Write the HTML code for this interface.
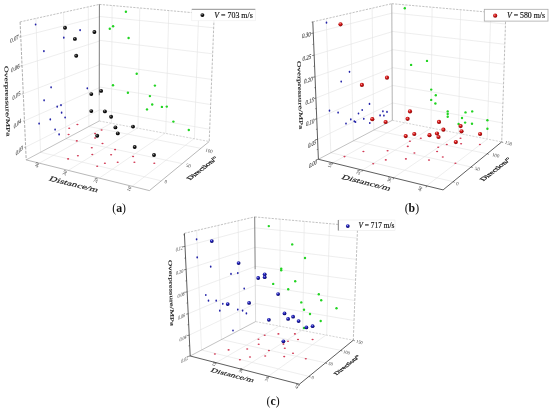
<!DOCTYPE html>
<html><head><meta charset="utf-8"><style>
html,body{margin:0;padding:0;background:#fff;}
svg{display:block;font-family:"Liberation Serif",serif;filter:blur(0.3px);}
</style></head><body>
<svg width="550" height="410" viewBox="0 0 550 410">
<defs>
<radialGradient id="gk" cx="0.4" cy="0.35" r="0.6"><stop offset="0" stop-color="#9a9a9a"/><stop offset="0.45" stop-color="#1a1a1a"/><stop offset="1" stop-color="#000"/></radialGradient>
<radialGradient id="gr" cx="0.4" cy="0.35" r="0.6"><stop offset="0" stop-color="#f4b0b0"/><stop offset="0.4" stop-color="#d81818"/><stop offset="1" stop-color="#900808"/></radialGradient>
<radialGradient id="gb" cx="0.4" cy="0.35" r="0.6"><stop offset="0" stop-color="#a0a0f0"/><stop offset="0.45" stop-color="#1e1eb4"/><stop offset="1" stop-color="#0a0a6a"/></radialGradient>
</defs>
<rect width="550" height="410" fill="#fff"/>
<line x1="25.63" y1="147.1" x2="99.22" y2="110.05" stroke="#e2e2e2" stroke-width="0.6"/>
<line x1="99.22" y1="109.74" x2="209.68" y2="129.29" stroke="#e2e2e2" stroke-width="0.6"/>
<line x1="24.47" y1="120.87" x2="99.26" y2="87.69" stroke="#e2e2e2" stroke-width="0.6"/>
<line x1="99.26" y1="86.96" x2="210.66" y2="104.55" stroke="#e2e2e2" stroke-width="0.6"/>
<line x1="23.28" y1="93.77" x2="99.3" y2="64.72" stroke="#e2e2e2" stroke-width="0.6"/>
<line x1="99.3" y1="63.83" x2="211.65" y2="79.4" stroke="#e2e2e2" stroke-width="0.6"/>
<line x1="22.04" y1="65.75" x2="99.34" y2="41.1" stroke="#e2e2e2" stroke-width="0.6"/>
<line x1="99.34" y1="40.34" x2="212.65" y2="53.81" stroke="#e2e2e2" stroke-width="0.6"/>
<line x1="20.76" y1="36.77" x2="99.38" y2="16.81" stroke="#e2e2e2" stroke-width="0.6"/>
<line x1="99.38" y1="16.47" x2="213.68" y2="27.78" stroke="#e2e2e2" stroke-width="0.6"/>
<line x1="40.56" y1="152.25" x2="35.88" y2="18.42" stroke="#e2e2e2" stroke-width="0.6"/>
<line x1="40.5" y1="152.28" x2="161.34" y2="180.8" stroke="#e2e2e2" stroke-width="0.6"/>
<line x1="65.95" y1="138.72" x2="63.56" y2="12.31" stroke="#e2e2e2" stroke-width="0.6"/>
<line x1="65.86" y1="138.76" x2="182.24" y2="163.64" stroke="#e2e2e2" stroke-width="0.6"/>
<line x1="88.85" y1="126.52" x2="88.29" y2="6.85" stroke="#e2e2e2" stroke-width="0.6"/>
<line x1="88.8" y1="126.54" x2="200.85" y2="148.35" stroke="#e2e2e2" stroke-width="0.6"/>
<line x1="111.41" y1="123.28" x2="112.1" y2="5.53" stroke="#e2e2e2" stroke-width="0.6"/>
<line x1="39.29" y1="163.16" x2="111.13" y2="123.22" stroke="#e2e2e2" stroke-width="0.6"/>
<line x1="137.99" y1="128.23" x2="139.79" y2="7.99" stroke="#e2e2e2" stroke-width="0.6"/>
<line x1="68.27" y1="170.38" x2="137.34" y2="128.11" stroke="#e2e2e2" stroke-width="0.6"/>
<line x1="165.77" y1="133.41" x2="168.77" y2="10.56" stroke="#e2e2e2" stroke-width="0.6"/>
<line x1="99.29" y1="178.11" x2="165.08" y2="133.28" stroke="#e2e2e2" stroke-width="0.6"/>
<line x1="194.36" y1="138.73" x2="198.66" y2="13.22" stroke="#e2e2e2" stroke-width="0.6"/>
<line x1="132.05" y1="186.28" x2="194.02" y2="138.67" stroke="#e2e2e2" stroke-width="0.6"/>
<line x1="20.1" y1="21.9" x2="99.4" y2="4.4" stroke="#a8a8a8" stroke-width="0.7" stroke-dasharray="2.2,1.2"/>
<line x1="99.4" y1="4.4" x2="214.2" y2="14.6" stroke="#a8a8a8" stroke-width="0.7" stroke-dasharray="2.2,1.2"/>
<line x1="214.2" y1="14.6" x2="209.2" y2="141.5" stroke="#a0a0a0" stroke-width="0.7" stroke-dasharray="2.6,1.4"/>
<line x1="99.2" y1="121" x2="209.2" y2="141.5" stroke="#b8b8b8" stroke-width="0.6" stroke-dasharray="2.2,1.2"/>
<line x1="99.4" y1="4.4" x2="99.24" y2="95.35" stroke="#505050" stroke-width="0.75"/>
<line x1="99.24" y1="95.35" x2="99.2" y2="121" stroke="#c4c4c4" stroke-width="0.6"/>
<line x1="26.2" y1="159.9" x2="99.2" y2="121" stroke="#999" stroke-width="0.6"/>
<line x1="20.1" y1="21.9" x2="26.2" y2="159.9" stroke="#999" stroke-width="0.8" stroke-dasharray="3,1.3"/>
<line x1="26.2" y1="159.9" x2="149.4" y2="190.6" stroke="#888" stroke-width="0.6"/>
<line x1="149.4" y1="190.6" x2="209.2" y2="141.5" stroke="#888" stroke-width="0.6"/>
<line x1="25.63" y1="147.1" x2="24.13" y2="147.4" stroke="#888" stroke-width="0.6"/>
<line x1="24.47" y1="120.87" x2="22.97" y2="121.17" stroke="#888" stroke-width="0.6"/>
<line x1="23.28" y1="93.77" x2="21.78" y2="94.07" stroke="#888" stroke-width="0.6"/>
<line x1="22.04" y1="65.75" x2="20.54" y2="66.05" stroke="#888" stroke-width="0.6"/>
<line x1="20.76" y1="36.77" x2="19.26" y2="37.07" stroke="#888" stroke-width="0.6"/>
<ellipse cx="77.4" cy="124.5" rx="1.1" ry="0.8" fill="#d23a55"/>
<ellipse cx="69.2" cy="128.3" rx="1.1" ry="0.8" fill="#d23a55"/>
<ellipse cx="68.6" cy="134.5" rx="1.1" ry="0.8" fill="#d23a55"/>
<ellipse cx="101.6" cy="130" rx="1.1" ry="0.8" fill="#d23a55"/>
<ellipse cx="95.1" cy="133.6" rx="1.1" ry="0.8" fill="#d23a55"/>
<ellipse cx="95.1" cy="138" rx="1.1" ry="0.8" fill="#d23a55"/>
<ellipse cx="76.8" cy="140.9" rx="1.1" ry="0.8" fill="#d23a55"/>
<ellipse cx="102.5" cy="143.5" rx="1.1" ry="0.8" fill="#d23a55"/>
<ellipse cx="91.8" cy="147.8" rx="1.1" ry="0.8" fill="#d23a55"/>
<ellipse cx="115.1" cy="149.6" rx="1.1" ry="0.8" fill="#d23a55"/>
<ellipse cx="92.3" cy="154.5" rx="1.1" ry="0.8" fill="#d23a55"/>
<ellipse cx="77.9" cy="155.8" rx="1.1" ry="0.8" fill="#d23a55"/>
<ellipse cx="111.1" cy="154.8" rx="1.1" ry="0.8" fill="#d23a55"/>
<ellipse cx="133.1" cy="156.5" rx="1.1" ry="0.8" fill="#d23a55"/>
<ellipse cx="68.1" cy="158.9" rx="1.1" ry="0.8" fill="#d23a55"/>
<ellipse cx="104.9" cy="163.3" rx="1.1" ry="0.8" fill="#d23a55"/>
<ellipse cx="117.7" cy="162.2" rx="1.1" ry="0.8" fill="#d23a55"/>
<ellipse cx="134.4" cy="162.2" rx="1.1" ry="0.8" fill="#d23a55"/>
<ellipse cx="97.2" cy="166.3" rx="1.1" ry="0.8" fill="#d23a55"/>
<ellipse cx="154.3" cy="163.3" rx="1.1" ry="0.8" fill="#d23a55"/>
<ellipse cx="35.6" cy="24.5" rx="0.85" ry="1.1" fill="#2222a8"/>
<ellipse cx="43.9" cy="51.2" rx="0.85" ry="1.1" fill="#2222a8"/>
<ellipse cx="63.8" cy="37.7" rx="0.85" ry="1.1" fill="#2222a8"/>
<ellipse cx="80.1" cy="30.2" rx="0.85" ry="1.1" fill="#2222a8"/>
<ellipse cx="51.1" cy="87.3" rx="0.85" ry="1.1" fill="#2222a8"/>
<ellipse cx="87.3" cy="88.3" rx="0.85" ry="1.1" fill="#2222a8"/>
<ellipse cx="44.1" cy="100.3" rx="0.85" ry="1.1" fill="#2222a8"/>
<ellipse cx="57.2" cy="106.7" rx="0.85" ry="1.1" fill="#2222a8"/>
<ellipse cx="61" cy="105.2" rx="0.85" ry="1.1" fill="#2222a8"/>
<ellipse cx="61.6" cy="112.7" rx="0.85" ry="1.1" fill="#2222a8"/>
<ellipse cx="65.1" cy="117.5" rx="0.85" ry="1.1" fill="#2222a8"/>
<ellipse cx="50.3" cy="119.4" rx="0.85" ry="1.1" fill="#2222a8"/>
<ellipse cx="39.1" cy="123.6" rx="0.85" ry="1.1" fill="#2222a8"/>
<ellipse cx="55.1" cy="129.6" rx="0.85" ry="1.1" fill="#2222a8"/>
<ellipse cx="59.1" cy="134.4" rx="0.85" ry="1.1" fill="#2222a8"/>
<circle cx="125.9" cy="11.8" r="1.2" fill="#22d422"/>
<circle cx="109.8" cy="28.7" r="1.2" fill="#22d422"/>
<circle cx="113.1" cy="26.3" r="1.2" fill="#22d422"/>
<circle cx="128.6" cy="38" r="1.2" fill="#22d422"/>
<circle cx="136.7" cy="73.7" r="1.2" fill="#22d422"/>
<circle cx="113" cy="85.2" r="1.2" fill="#22d422"/>
<circle cx="154.9" cy="85.6" r="1.2" fill="#22d422"/>
<circle cx="127.9" cy="92.7" r="1.2" fill="#22d422"/>
<circle cx="149.9" cy="96.1" r="1.2" fill="#22d422"/>
<circle cx="152.2" cy="104.5" r="1.2" fill="#22d422"/>
<circle cx="147" cy="109.4" r="1.2" fill="#22d422"/>
<circle cx="161.9" cy="106.9" r="1.2" fill="#22d422"/>
<circle cx="166.8" cy="106.6" r="1.2" fill="#22d422"/>
<circle cx="173.4" cy="121.6" r="1.2" fill="#22d422"/>
<circle cx="188.8" cy="130" r="1.2" fill="#22d422"/>
<circle cx="65" cy="27.8" r="1.95" fill="url(#gk)"/>
<circle cx="74.9" cy="38.9" r="1.95" fill="url(#gk)"/>
<circle cx="94.4" cy="32" r="1.95" fill="url(#gk)"/>
<circle cx="76.2" cy="55.8" r="1.95" fill="url(#gk)"/>
<circle cx="91.3" cy="94.1" r="1.95" fill="url(#gk)"/>
<circle cx="101.1" cy="90.9" r="1.95" fill="url(#gk)"/>
<circle cx="91.3" cy="111.1" r="1.95" fill="url(#gk)"/>
<circle cx="104.9" cy="111.4" r="1.95" fill="url(#gk)"/>
<circle cx="111.1" cy="116.7" r="1.95" fill="url(#gk)"/>
<circle cx="115.4" cy="127.4" r="1.95" fill="url(#gk)"/>
<circle cx="133" cy="126.6" r="1.95" fill="url(#gk)"/>
<circle cx="117.8" cy="133.4" r="1.95" fill="url(#gk)"/>
<circle cx="97.2" cy="135.7" r="1.95" fill="url(#gk)"/>
<circle cx="134.7" cy="147" r="1.95" fill="url(#gk)"/>
<circle cx="154" cy="155" r="1.95" fill="url(#gk)"/>
<text font-size="6.5" font-style="normal" fill="#333" stroke="#333" stroke-width="0.1" text-anchor="middle" dominant-baseline="central" transform="matrix(0.742 -0.415 0.000 1.000 14.5 38.8)">0.07</text>
<text font-size="6.5" font-style="normal" fill="#333" stroke="#333" stroke-width="0.1" text-anchor="middle" dominant-baseline="central" transform="matrix(0.715 -0.459 0.000 1.000 15.4 68.1)">0.06</text>
<text font-size="6.5" font-style="normal" fill="#333" stroke="#333" stroke-width="0.1" text-anchor="middle" dominant-baseline="central" transform="matrix(0.688 -0.499 0.000 1.000 16.5 95.5)">0.05</text>
<text font-size="6.5" font-style="normal" fill="#333" stroke="#333" stroke-width="0.1" text-anchor="middle" dominant-baseline="central" transform="matrix(0.661 -0.534 0.000 1.000 17.5 123.5)">0.04</text>
<text font-size="6.5" font-style="normal" fill="#333" stroke="#333" stroke-width="0.1" text-anchor="middle" dominant-baseline="central" transform="matrix(0.634 -0.566 0.000 1.000 19.3 150.4)">0.03</text>
<text x="37.1" y="165.1" font-size="5" fill="#444" text-anchor="middle" dominant-baseline="central" transform="rotate(-70 37.1 165.1)">40</text>
<text x="65" y="173.1" font-size="5" fill="#444" text-anchor="middle" dominant-baseline="central" transform="rotate(-70 65 173.1)">30</text>
<text x="96" y="180.5" font-size="5" fill="#444" text-anchor="middle" dominant-baseline="central" transform="rotate(-70 96 180.5)">20</text>
<text x="129.3" y="189" font-size="5" fill="#444" text-anchor="middle" dominant-baseline="central" transform="rotate(-70 129.3 189)">10</text>
<text x="165.8" y="182" font-size="5" fill="#444" text-anchor="middle" dominant-baseline="central" transform="rotate(15 165.8 182)">0</text>
<text x="188.5" y="165.8" font-size="5" fill="#444" text-anchor="middle" dominant-baseline="central" transform="rotate(15 188.5 165.8)">50</text>
<text x="209" y="151" font-size="5" fill="#444" text-anchor="middle" dominant-baseline="central" transform="rotate(15 209 151)">100</text>
<text font-size="9.43" fill="#222" stroke="#222" stroke-width="0.25" transform="matrix(0.031 1 -0.59 0.018 4.4 65.9)">Overpressure/MPa</text>
<text font-size="11" fill="#222" stroke="#222" stroke-width="0.25" transform="matrix(0.971 0.240 -0.394 0.558 48.3 180.3)">Distance/m</text>
<text font-size="8.1" fill="#222" stroke="#222" stroke-width="0.32" transform="matrix(0.788 -0.616 0.8 0.36 190.3 180.3)">Direction/°</text>
<rect x="191.8" y="9.3" width="63.5" height="11.5" fill="#fff" stroke="#ececec" stroke-width="0.5"/>
<line x1="191.8" y1="9.3" x2="255.3" y2="9.3" stroke="#777" stroke-width="0.8"/>
<circle cx="202.4" cy="15.1" r="1.95" fill="url(#gk)"/>
<text x="214.3" y="18.3" font-size="7.9" fill="#111" stroke="#111" stroke-width="0.15"><tspan font-style="italic">V</tspan> = 703 m/s</text>
<text x="119.1" y="211.9" font-size="11.8" fill="#111" text-anchor="middle">(<tspan font-weight="bold">a</tspan>)</text>
<line x1="317.59" y1="139.3" x2="392.23" y2="103.18" stroke="#e2e2e2" stroke-width="0.6"/>
<line x1="392.23" y1="102.93" x2="502.31" y2="122.87" stroke="#e2e2e2" stroke-width="0.6"/>
<line x1="316.75" y1="118.9" x2="392.15" y2="85.78" stroke="#e2e2e2" stroke-width="0.6"/>
<line x1="392.15" y1="85.36" x2="502.93" y2="103.59" stroke="#e2e2e2" stroke-width="0.6"/>
<line x1="315.91" y1="98.09" x2="392.08" y2="68.08" stroke="#e2e2e2" stroke-width="0.6"/>
<line x1="392.07" y1="67.59" x2="503.55" y2="84.07" stroke="#e2e2e2" stroke-width="0.6"/>
<line x1="315.04" y1="76.86" x2="392" y2="50.09" stroke="#e2e2e2" stroke-width="0.6"/>
<line x1="392" y1="49.61" x2="504.18" y2="64.3" stroke="#e2e2e2" stroke-width="0.6"/>
<line x1="314.16" y1="55.19" x2="391.92" y2="31.79" stroke="#e2e2e2" stroke-width="0.6"/>
<line x1="391.92" y1="31.42" x2="504.82" y2="44.27" stroke="#e2e2e2" stroke-width="0.6"/>
<line x1="313.26" y1="33.07" x2="391.84" y2="13.17" stroke="#e2e2e2" stroke-width="0.6"/>
<line x1="391.84" y1="13.02" x2="505.47" y2="23.98" stroke="#e2e2e2" stroke-width="0.6"/>
<line x1="330.8" y1="152.76" x2="326.18" y2="18.74" stroke="#e2e2e2" stroke-width="0.6"/>
<line x1="330.84" y1="152.73" x2="453.11" y2="181.7" stroke="#e2e2e2" stroke-width="0.6"/>
<line x1="353.34" y1="140.86" x2="350.37" y2="13.19" stroke="#e2e2e2" stroke-width="0.6"/>
<line x1="353.41" y1="140.82" x2="471.13" y2="166.94" stroke="#e2e2e2" stroke-width="0.6"/>
<line x1="373.75" y1="130.09" x2="372.12" y2="8.21" stroke="#e2e2e2" stroke-width="0.6"/>
<line x1="373.8" y1="130.06" x2="487.23" y2="153.76" stroke="#e2e2e2" stroke-width="0.6"/>
<line x1="405.05" y1="122.82" x2="405.04" y2="4.86" stroke="#e2e2e2" stroke-width="0.6"/>
<line x1="332.83" y1="162.84" x2="405.16" y2="122.84" stroke="#e2e2e2" stroke-width="0.6"/>
<line x1="431.06" y1="127.95" x2="432.08" y2="7.23" stroke="#e2e2e2" stroke-width="0.6"/>
<line x1="362.36" y1="170.09" x2="431.31" y2="128" stroke="#e2e2e2" stroke-width="0.6"/>
<line x1="458.47" y1="133.36" x2="460.64" y2="9.74" stroke="#e2e2e2" stroke-width="0.6"/>
<line x1="393.59" y1="177.75" x2="458.73" y2="133.42" stroke="#e2e2e2" stroke-width="0.6"/>
<line x1="487.28" y1="139.05" x2="490.72" y2="12.38" stroke="#e2e2e2" stroke-width="0.6"/>
<line x1="426.55" y1="185.84" x2="487.41" y2="139.08" stroke="#e2e2e2" stroke-width="0.6"/>
<line x1="312.8" y1="21.8" x2="391.8" y2="3.7" stroke="#a8a8a8" stroke-width="0.7" stroke-dasharray="2.2,1.2"/>
<line x1="391.8" y1="3.7" x2="505.8" y2="13.7" stroke="#a8a8a8" stroke-width="0.7" stroke-dasharray="2.2,1.2"/>
<line x1="505.8" y1="13.7" x2="501.7" y2="141.9" stroke="#a0a0a0" stroke-width="0.7" stroke-dasharray="2.6,1.4"/>
<line x1="392.3" y1="120.3" x2="501.7" y2="141.9" stroke="#b8b8b8" stroke-width="0.6" stroke-dasharray="2.2,1.2"/>
<line x1="391.8" y1="3.7" x2="392.3" y2="120.3" stroke="#999" stroke-width="0.75"/>
<line x1="318.4" y1="159.3" x2="392.3" y2="120.3" stroke="#999" stroke-width="0.6"/>
<line x1="312.8" y1="21.8" x2="318.4" y2="159.3" stroke="#333" stroke-width="0.8"/>
<line x1="318.4" y1="159.3" x2="443.1" y2="189.9" stroke="#333" stroke-width="0.8"/>
<line x1="443.1" y1="189.9" x2="501.7" y2="141.9" stroke="#333" stroke-width="0.8"/>
<line x1="317.59" y1="139.3" x2="315.59" y2="139.7" stroke="#333" stroke-width="0.6"/>
<line x1="316.75" y1="118.9" x2="314.75" y2="119.3" stroke="#333" stroke-width="0.6"/>
<line x1="315.91" y1="98.09" x2="313.91" y2="98.49" stroke="#333" stroke-width="0.6"/>
<line x1="315.04" y1="76.86" x2="313.04" y2="77.26" stroke="#333" stroke-width="0.6"/>
<line x1="314.16" y1="55.19" x2="312.16" y2="55.59" stroke="#333" stroke-width="0.6"/>
<line x1="313.26" y1="33.07" x2="311.26" y2="33.47" stroke="#333" stroke-width="0.6"/>
<line x1="318.4" y1="159.3" x2="316.4" y2="159.7" stroke="#333" stroke-width="0.6"/>
<line x1="317.99" y1="149.35" x2="316.79" y2="149.6" stroke="#333" stroke-width="0.5"/>
<line x1="317.17" y1="129.15" x2="315.97" y2="129.4" stroke="#333" stroke-width="0.5"/>
<line x1="316.33" y1="108.54" x2="315.13" y2="108.79" stroke="#333" stroke-width="0.5"/>
<line x1="315.48" y1="87.53" x2="314.28" y2="87.78" stroke="#333" stroke-width="0.5"/>
<line x1="314.6" y1="66.08" x2="313.4" y2="66.33" stroke="#333" stroke-width="0.5"/>
<line x1="313.71" y1="44.19" x2="312.51" y2="44.44" stroke="#333" stroke-width="0.5"/>
<line x1="312.8" y1="21.84" x2="311.6" y2="22.09" stroke="#333" stroke-width="0.5"/>
<line x1="332.83" y1="162.84" x2="332.33" y2="164.44" stroke="#333" stroke-width="0.6"/>
<line x1="362.36" y1="170.09" x2="361.86" y2="171.69" stroke="#333" stroke-width="0.6"/>
<line x1="393.59" y1="177.75" x2="393.09" y2="179.35" stroke="#333" stroke-width="0.6"/>
<line x1="426.55" y1="185.84" x2="426.05" y2="187.44" stroke="#333" stroke-width="0.6"/>
<line x1="453.11" y1="181.7" x2="454.61" y2="182.3" stroke="#333" stroke-width="0.6"/>
<line x1="471.13" y1="166.94" x2="472.63" y2="167.54" stroke="#333" stroke-width="0.6"/>
<line x1="487.23" y1="153.76" x2="488.73" y2="154.36" stroke="#333" stroke-width="0.6"/>
<line x1="501.7" y1="141.9" x2="503.2" y2="142.5" stroke="#333" stroke-width="0.6"/>
<ellipse cx="344.5" cy="156.6" rx="1.1" ry="0.8" fill="#d23a55"/>
<ellipse cx="363.4" cy="151.5" rx="1.1" ry="0.8" fill="#d23a55"/>
<ellipse cx="387.6" cy="150.7" rx="1.1" ry="0.8" fill="#d23a55"/>
<ellipse cx="373.2" cy="163.8" rx="1.1" ry="0.8" fill="#d23a55"/>
<ellipse cx="385.8" cy="159.9" rx="1.1" ry="0.8" fill="#d23a55"/>
<ellipse cx="405.9" cy="158.9" rx="1.1" ry="0.8" fill="#d23a55"/>
<ellipse cx="407.8" cy="146.4" rx="1.1" ry="0.8" fill="#d23a55"/>
<ellipse cx="409.9" cy="141.2" rx="1.1" ry="0.8" fill="#d23a55"/>
<ellipse cx="420.8" cy="138.2" rx="1.1" ry="0.8" fill="#d23a55"/>
<ellipse cx="414.4" cy="153" rx="1.1" ry="0.8" fill="#d23a55"/>
<ellipse cx="438.2" cy="147.2" rx="1.1" ry="0.8" fill="#d23a55"/>
<ellipse cx="446.8" cy="144.5" rx="1.1" ry="0.8" fill="#d23a55"/>
<ellipse cx="437.1" cy="151.5" rx="1.1" ry="0.8" fill="#d23a55"/>
<ellipse cx="460.5" cy="138.3" rx="1.1" ry="0.8" fill="#d23a55"/>
<ellipse cx="461.1" cy="143.7" rx="1.1" ry="0.8" fill="#d23a55"/>
<ellipse cx="479.9" cy="144.5" rx="1.1" ry="0.8" fill="#d23a55"/>
<ellipse cx="442.8" cy="157" rx="1.1" ry="0.8" fill="#d23a55"/>
<ellipse cx="429" cy="160.1" rx="1.1" ry="0.8" fill="#d23a55"/>
<ellipse cx="455.4" cy="163.2" rx="1.1" ry="0.8" fill="#d23a55"/>
<ellipse cx="326.5" cy="22.7" rx="0.85" ry="1.1" fill="#2222a8"/>
<ellipse cx="349.5" cy="71.8" rx="0.85" ry="1.1" fill="#2222a8"/>
<ellipse cx="341.2" cy="81.6" rx="0.85" ry="1.1" fill="#2222a8"/>
<ellipse cx="329.5" cy="110.7" rx="0.85" ry="1.1" fill="#2222a8"/>
<ellipse cx="338.1" cy="112.6" rx="0.85" ry="1.1" fill="#2222a8"/>
<ellipse cx="369.5" cy="103.9" rx="0.85" ry="1.1" fill="#2222a8"/>
<ellipse cx="362.2" cy="110" rx="0.85" ry="1.1" fill="#2222a8"/>
<ellipse cx="358.5" cy="113.5" rx="0.85" ry="1.1" fill="#2222a8"/>
<ellipse cx="350.8" cy="119.4" rx="0.85" ry="1.1" fill="#2222a8"/>
<ellipse cx="354.3" cy="121.3" rx="0.85" ry="1.1" fill="#2222a8"/>
<ellipse cx="355.5" cy="122" rx="0.85" ry="1.1" fill="#2222a8"/>
<ellipse cx="346" cy="123.6" rx="0.85" ry="1.1" fill="#2222a8"/>
<ellipse cx="363.8" cy="118.8" rx="0.85" ry="1.1" fill="#2222a8"/>
<ellipse cx="369.8" cy="123" rx="0.85" ry="1.1" fill="#2222a8"/>
<ellipse cx="382.9" cy="111.3" rx="0.85" ry="1.1" fill="#2222a8"/>
<ellipse cx="387" cy="111.9" rx="0.85" ry="1.1" fill="#2222a8"/>
<ellipse cx="380.1" cy="115.4" rx="0.85" ry="1.1" fill="#2222a8"/>
<ellipse cx="383.9" cy="115.6" rx="0.85" ry="1.1" fill="#2222a8"/>
<circle cx="404.8" cy="8.2" r="1.2" fill="#22d422"/>
<circle cx="411.1" cy="64.9" r="1.2" fill="#22d422"/>
<circle cx="427" cy="60.9" r="1.2" fill="#22d422"/>
<circle cx="431.2" cy="89.6" r="1.2" fill="#22d422"/>
<circle cx="435.8" cy="95.3" r="1.2" fill="#22d422"/>
<circle cx="431.2" cy="99.9" r="1.2" fill="#22d422"/>
<circle cx="435.4" cy="103.5" r="1.2" fill="#22d422"/>
<circle cx="447.7" cy="111.4" r="1.2" fill="#22d422"/>
<circle cx="447.7" cy="114" r="1.2" fill="#22d422"/>
<circle cx="447.7" cy="116.7" r="1.2" fill="#22d422"/>
<circle cx="465.5" cy="112.4" r="1.2" fill="#22d422"/>
<circle cx="472.2" cy="111.4" r="1.2" fill="#22d422"/>
<circle cx="462" cy="118" r="1.2" fill="#22d422"/>
<circle cx="465.1" cy="122.6" r="1.2" fill="#22d422"/>
<circle cx="472" cy="123.7" r="1.2" fill="#22d422"/>
<circle cx="458.6" cy="124" r="1.2" fill="#22d422"/>
<circle cx="487.4" cy="120.2" r="1.2" fill="#22d422"/>
<circle cx="487.4" cy="128.8" r="1.2" fill="#22d422"/>
<circle cx="340.5" cy="24.3" r="2.1" fill="url(#gr)"/>
<circle cx="361.9" cy="84.9" r="2.1" fill="url(#gr)"/>
<circle cx="387" cy="77.7" r="2.1" fill="url(#gr)"/>
<circle cx="372.3" cy="119.2" r="2.1" fill="url(#gr)"/>
<circle cx="385.6" cy="122" r="2.1" fill="url(#gr)"/>
<circle cx="410" cy="111.4" r="2.1" fill="url(#gr)"/>
<circle cx="407.6" cy="118.8" r="2.1" fill="url(#gr)"/>
<circle cx="439" cy="121.9" r="2.1" fill="url(#gr)"/>
<circle cx="443.4" cy="129.7" r="2.1" fill="url(#gr)"/>
<circle cx="460.6" cy="126.1" r="2.1" fill="url(#gr)"/>
<circle cx="461.5" cy="131.3" r="2.1" fill="url(#gr)"/>
<circle cx="480.1" cy="134" r="2.1" fill="url(#gr)"/>
<circle cx="405.7" cy="136.1" r="2.1" fill="url(#gr)"/>
<circle cx="414.3" cy="134" r="2.1" fill="url(#gr)"/>
<circle cx="429.5" cy="135.2" r="2.1" fill="url(#gr)"/>
<circle cx="437" cy="133.5" r="2.1" fill="url(#gr)"/>
<circle cx="438.5" cy="137" r="2.1" fill="url(#gr)"/>
<circle cx="455.8" cy="142.1" r="2.1" fill="url(#gr)"/>
<text font-size="6.5" font-style="italic" fill="#333" stroke="#333" stroke-width="0.1" text-anchor="middle" dominant-baseline="central" transform="matrix(0.776 -0.196 0.000 1.000 306.4 35)">0.30</text>
<text font-size="6.5" font-style="italic" fill="#333" stroke="#333" stroke-width="0.1" text-anchor="middle" dominant-baseline="central" transform="matrix(0.766 -0.231 0.000 1.000 306.8 57.6)">0.25</text>
<text font-size="6.5" font-style="italic" fill="#333" stroke="#333" stroke-width="0.1" text-anchor="middle" dominant-baseline="central" transform="matrix(0.756 -0.263 0.000 1.000 308.3 80.1)">0.20</text>
<text font-size="6.5" font-style="italic" fill="#333" stroke="#333" stroke-width="0.1" text-anchor="middle" dominant-baseline="central" transform="matrix(0.744 -0.293 0.000 1.000 309.6 101.1)">0.15</text>
<text font-size="6.5" font-style="italic" fill="#333" stroke="#333" stroke-width="0.1" text-anchor="middle" dominant-baseline="central" transform="matrix(0.732 -0.322 0.000 1.000 310.2 122.2)">0.10</text>
<text font-size="6.5" font-style="italic" fill="#333" stroke="#333" stroke-width="0.1" text-anchor="middle" dominant-baseline="central" transform="matrix(0.720 -0.348 0.000 1.000 312 143.7)">0.05</text>
<text font-size="6.5" font-style="italic" fill="#333" stroke="#333" stroke-width="0.1" text-anchor="middle" dominant-baseline="central" transform="matrix(0.708 -0.373 0.000 1.000 312.9 163.8)">0.00</text>
<text x="330" y="165.3" font-size="5" fill="#444" text-anchor="middle" dominant-baseline="central" transform="rotate(-70 330 165.3)">10</text>
<text x="358.5" y="172.4" font-size="5" fill="#444" text-anchor="middle" dominant-baseline="central" transform="rotate(-70 358.5 172.4)">20</text>
<text x="389.4" y="180" font-size="5" fill="#444" text-anchor="middle" dominant-baseline="central" transform="rotate(-70 389.4 180)">30</text>
<text x="420.3" y="189" font-size="5" fill="#444" text-anchor="middle" dominant-baseline="central" transform="rotate(-70 420.3 189)">40</text>
<text x="457.3" y="184" font-size="5" fill="#444" text-anchor="middle" dominant-baseline="central" transform="rotate(15 457.3 184)">0</text>
<text x="477.4" y="169" font-size="5" fill="#444" text-anchor="middle" dominant-baseline="central" transform="rotate(15 477.4 169)">50</text>
<text x="495.7" y="155.6" font-size="5" fill="#444" text-anchor="middle" dominant-baseline="central" transform="rotate(15 495.7 155.6)">100</text>
<text x="508.5" y="143.4" font-size="5" fill="#444" text-anchor="middle" dominant-baseline="central" transform="rotate(15 508.5 143.4)">150</text>
<text font-size="9.1" fill="#222" stroke="#222" stroke-width="0.25" transform="matrix(0.031 1 -0.59 0.018 297.3 61)">Overpressure/MPa</text>
<text font-size="11" fill="#222" stroke="#222" stroke-width="0.25" transform="matrix(0.971 0.240 -0.394 0.558 340.8 178.7)">Distance/m</text>
<text font-size="8.1" fill="#222" stroke="#222" stroke-width="0.32" transform="matrix(0.788 -0.616 0.8 0.36 483.6 181.3)">Direction/°</text>
<rect x="484.3" y="9.3" width="63.7" height="11.8" fill="#fff" stroke="#aaa" stroke-width="0.8"/>
<circle cx="495.2" cy="15.7" r="2.1" fill="url(#gr)"/>
<text x="507" y="18.4" font-size="7.8" fill="#111" stroke="#111" stroke-width="0.15"><tspan font-style="italic">V</tspan> = 580 m/s</text>
<text x="411.9" y="211.9" font-size="11.8" fill="#111" text-anchor="middle">(<tspan font-weight="bold">b</tspan>)</text>
<line x1="189.21" y1="335.15" x2="255.45" y2="303.64" stroke="#e2e2e2" stroke-width="0.6"/>
<line x1="255.44" y1="303.49" x2="354.04" y2="320.55" stroke="#e2e2e2" stroke-width="0.6"/>
<line x1="188.2" y1="313.78" x2="255.29" y2="285.31" stroke="#e2e2e2" stroke-width="0.6"/>
<line x1="255.29" y1="285.06" x2="354.8" y2="300.53" stroke="#e2e2e2" stroke-width="0.6"/>
<line x1="187.17" y1="291.87" x2="255.13" y2="266.59" stroke="#e2e2e2" stroke-width="0.6"/>
<line x1="255.12" y1="266.32" x2="355.57" y2="280.14" stroke="#e2e2e2" stroke-width="0.6"/>
<line x1="186.11" y1="269.41" x2="254.96" y2="247.47" stroke="#e2e2e2" stroke-width="0.6"/>
<line x1="254.96" y1="247.24" x2="356.35" y2="259.35" stroke="#e2e2e2" stroke-width="0.6"/>
<line x1="185.02" y1="246.36" x2="254.79" y2="227.94" stroke="#e2e2e2" stroke-width="0.6"/>
<line x1="254.79" y1="227.83" x2="357.15" y2="238.15" stroke="#e2e2e2" stroke-width="0.6"/>
<line x1="201.49" y1="350.06" x2="196.65" y2="230.44" stroke="#e2e2e2" stroke-width="0.6"/>
<line x1="201.57" y1="350.02" x2="308.97" y2="376.39" stroke="#e2e2e2" stroke-width="0.6"/>
<line x1="221.37" y1="339.61" x2="218.1" y2="225.44" stroke="#e2e2e2" stroke-width="0.6"/>
<line x1="221.51" y1="339.53" x2="325.55" y2="362.86" stroke="#e2e2e2" stroke-width="0.6"/>
<line x1="240.02" y1="329.8" x2="238.09" y2="220.77" stroke="#e2e2e2" stroke-width="0.6"/>
<line x1="240.12" y1="329.74" x2="340.79" y2="350.41" stroke="#e2e2e2" stroke-width="0.6"/>
<line x1="279.83" y1="326.21" x2="280.13" y2="219.2" stroke="#e2e2e2" stroke-width="0.6"/>
<line x1="216.12" y1="362.69" x2="279.24" y2="326.1" stroke="#e2e2e2" stroke-width="0.6"/>
<line x1="302.76" y1="330.58" x2="304.25" y2="221.38" stroke="#e2e2e2" stroke-width="0.6"/>
<line x1="241.34" y1="369.21" x2="301.97" y2="330.43" stroke="#e2e2e2" stroke-width="0.6"/>
<line x1="326.69" y1="335.13" x2="329.48" y2="223.66" stroke="#e2e2e2" stroke-width="0.6"/>
<line x1="268.4" y1="376.19" x2="326.06" y2="335.01" stroke="#e2e2e2" stroke-width="0.6"/>
<line x1="184.4" y1="233.3" x2="254.7" y2="216.9" stroke="#a8a8a8" stroke-width="0.7" stroke-dasharray="2.2,1.2"/>
<line x1="254.7" y1="216.9" x2="357.6" y2="226.2" stroke="#a8a8a8" stroke-width="0.7" stroke-dasharray="2.2,1.2"/>
<line x1="357.6" y1="226.2" x2="353.3" y2="340.2" stroke="#a0a0a0" stroke-width="0.7" stroke-dasharray="2.6,1.4"/>
<line x1="255.6" y1="321.6" x2="353.3" y2="340.2" stroke="#b8b8b8" stroke-width="0.6" stroke-dasharray="2.2,1.2"/>
<line x1="254.7" y1="216.9" x2="255.15" y2="269.25" stroke="#555" stroke-width="0.75"/>
<line x1="255.15" y1="269.25" x2="255.6" y2="321.6" stroke="#c4c4c4" stroke-width="0.6"/>
<line x1="190.2" y1="356" x2="255.6" y2="321.6" stroke="#999" stroke-width="0.6"/>
<line x1="184.4" y1="233.3" x2="190.2" y2="356" stroke="#333" stroke-width="0.8"/>
<line x1="190.2" y1="356" x2="299.4" y2="384.2" stroke="#333" stroke-width="0.8"/>
<line x1="299.4" y1="384.2" x2="353.3" y2="340.2" stroke="#333" stroke-width="0.8"/>
<line x1="189.21" y1="335.15" x2="187.21" y2="335.55" stroke="#333" stroke-width="0.6"/>
<line x1="188.2" y1="313.78" x2="186.2" y2="314.18" stroke="#333" stroke-width="0.6"/>
<line x1="187.17" y1="291.87" x2="185.17" y2="292.27" stroke="#333" stroke-width="0.6"/>
<line x1="186.11" y1="269.41" x2="184.11" y2="269.81" stroke="#333" stroke-width="0.6"/>
<line x1="185.02" y1="246.36" x2="183.02" y2="246.76" stroke="#333" stroke-width="0.6"/>
<line x1="190.2" y1="356" x2="188.2" y2="356.4" stroke="#333" stroke-width="0.6"/>
<line x1="189.71" y1="345.64" x2="188.51" y2="345.89" stroke="#333" stroke-width="0.5"/>
<line x1="188.71" y1="324.53" x2="187.51" y2="324.78" stroke="#333" stroke-width="0.5"/>
<line x1="187.69" y1="302.89" x2="186.49" y2="303.14" stroke="#333" stroke-width="0.5"/>
<line x1="186.64" y1="280.71" x2="185.44" y2="280.96" stroke="#333" stroke-width="0.5"/>
<line x1="185.57" y1="257.96" x2="184.37" y2="258.21" stroke="#333" stroke-width="0.5"/>
<line x1="184.46" y1="234.61" x2="183.26" y2="234.86" stroke="#333" stroke-width="0.5"/>
<line x1="216.12" y1="362.69" x2="215.62" y2="364.29" stroke="#333" stroke-width="0.6"/>
<line x1="241.34" y1="369.21" x2="240.84" y2="370.81" stroke="#333" stroke-width="0.6"/>
<line x1="268.4" y1="376.19" x2="267.9" y2="377.79" stroke="#333" stroke-width="0.6"/>
<line x1="299.4" y1="384.2" x2="298.9" y2="385.8" stroke="#333" stroke-width="0.6"/>
<line x1="308.97" y1="376.39" x2="310.47" y2="376.99" stroke="#333" stroke-width="0.6"/>
<line x1="325.55" y1="362.86" x2="327.05" y2="363.46" stroke="#333" stroke-width="0.6"/>
<line x1="340.79" y1="350.41" x2="342.29" y2="351.01" stroke="#333" stroke-width="0.6"/>
<line x1="353.3" y1="340.2" x2="354.8" y2="340.8" stroke="#333" stroke-width="0.6"/>
<ellipse cx="214.9" cy="354" rx="1.1" ry="0.8" fill="#d23a55"/>
<ellipse cx="228.6" cy="349.9" rx="1.1" ry="0.8" fill="#d23a55"/>
<ellipse cx="247.2" cy="349" rx="1.1" ry="0.8" fill="#d23a55"/>
<ellipse cx="239.9" cy="359.7" rx="1.1" ry="0.8" fill="#d23a55"/>
<ellipse cx="250" cy="357" rx="1.1" ry="0.8" fill="#d23a55"/>
<ellipse cx="258.7" cy="344.3" rx="1.1" ry="0.8" fill="#d23a55"/>
<ellipse cx="258.5" cy="339.2" rx="1.1" ry="0.8" fill="#d23a55"/>
<ellipse cx="264.7" cy="335.3" rx="1.1" ry="0.8" fill="#d23a55"/>
<ellipse cx="278.4" cy="333.9" rx="1.1" ry="0.8" fill="#d23a55"/>
<ellipse cx="294.9" cy="333.9" rx="1.1" ry="0.8" fill="#d23a55"/>
<ellipse cx="288" cy="341.3" rx="1.1" ry="0.8" fill="#d23a55"/>
<ellipse cx="298" cy="339.5" rx="1.1" ry="0.8" fill="#d23a55"/>
<ellipse cx="312.6" cy="339.5" rx="1.1" ry="0.8" fill="#d23a55"/>
<ellipse cx="283.4" cy="344.1" rx="1.1" ry="0.8" fill="#d23a55"/>
<ellipse cx="284.8" cy="348.2" rx="1.1" ry="0.8" fill="#d23a55"/>
<ellipse cx="268.9" cy="350.5" rx="1.1" ry="0.8" fill="#d23a55"/>
<ellipse cx="293" cy="353.3" rx="1.1" ry="0.8" fill="#d23a55"/>
<ellipse cx="265.2" cy="356" rx="1.1" ry="0.8" fill="#d23a55"/>
<ellipse cx="284.2" cy="356.6" rx="1.1" ry="0.8" fill="#d23a55"/>
<ellipse cx="305.8" cy="358.8" rx="1.1" ry="0.8" fill="#d23a55"/>
<ellipse cx="196.6" cy="239.3" rx="0.85" ry="1.1" fill="#2222a8"/>
<ellipse cx="197.2" cy="257.4" rx="0.85" ry="1.1" fill="#2222a8"/>
<ellipse cx="210.7" cy="266.7" rx="0.85" ry="1.1" fill="#2222a8"/>
<ellipse cx="231" cy="273.9" rx="0.85" ry="1.1" fill="#2222a8"/>
<ellipse cx="237.8" cy="273.1" rx="0.85" ry="1.1" fill="#2222a8"/>
<ellipse cx="244.2" cy="288.6" rx="0.85" ry="1.1" fill="#2222a8"/>
<ellipse cx="205.8" cy="295" rx="0.85" ry="1.1" fill="#2222a8"/>
<ellipse cx="208.5" cy="300.7" rx="0.85" ry="1.1" fill="#2222a8"/>
<ellipse cx="216.2" cy="300.7" rx="0.85" ry="1.1" fill="#2222a8"/>
<ellipse cx="222.8" cy="303.8" rx="0.85" ry="1.1" fill="#2222a8"/>
<ellipse cx="219.8" cy="310.7" rx="0.85" ry="1.1" fill="#2222a8"/>
<ellipse cx="237.8" cy="309.6" rx="0.85" ry="1.1" fill="#2222a8"/>
<ellipse cx="242.6" cy="310.6" rx="0.85" ry="1.1" fill="#2222a8"/>
<ellipse cx="246.4" cy="313.4" rx="0.85" ry="1.1" fill="#2222a8"/>
<ellipse cx="233" cy="330.5" rx="0.85" ry="1.1" fill="#2222a8"/>
<circle cx="268.8" cy="226.1" r="1.2" fill="#22d422"/>
<circle cx="292.2" cy="244.4" r="1.2" fill="#22d422"/>
<circle cx="305" cy="258" r="1.2" fill="#22d422"/>
<circle cx="281.2" cy="268.6" r="1.2" fill="#22d422"/>
<circle cx="281.2" cy="270.3" r="1.2" fill="#22d422"/>
<circle cx="295.2" cy="281.3" r="1.2" fill="#22d422"/>
<circle cx="273.2" cy="283.9" r="1.2" fill="#22d422"/>
<circle cx="288.2" cy="289.3" r="1.2" fill="#22d422"/>
<circle cx="318.8" cy="294.2" r="1.2" fill="#22d422"/>
<circle cx="321.2" cy="300.2" r="1.2" fill="#22d422"/>
<circle cx="301.3" cy="302.4" r="1.2" fill="#22d422"/>
<circle cx="304" cy="309.7" r="1.2" fill="#22d422"/>
<circle cx="310" cy="314" r="1.2" fill="#22d422"/>
<circle cx="320.7" cy="321" r="1.2" fill="#22d422"/>
<circle cx="304" cy="328" r="1.2" fill="#22d422"/>
<circle cx="336.5" cy="308.3" r="1.2" fill="#22d422"/>
<circle cx="211.8" cy="241.1" r="1.9" fill="url(#gb)"/>
<circle cx="238.6" cy="263.1" r="1.9" fill="url(#gb)"/>
<circle cx="258.2" cy="278" r="1.9" fill="url(#gb)"/>
<circle cx="264.7" cy="274.3" r="1.9" fill="url(#gb)"/>
<circle cx="264.7" cy="277.2" r="1.9" fill="url(#gb)"/>
<circle cx="227.7" cy="304.1" r="1.9" fill="url(#gb)"/>
<circle cx="249.1" cy="302.9" r="1.9" fill="url(#gb)"/>
<circle cx="278.1" cy="294.1" r="1.9" fill="url(#gb)"/>
<circle cx="284.5" cy="313.4" r="1.9" fill="url(#gb)"/>
<circle cx="288.1" cy="318.9" r="1.9" fill="url(#gb)"/>
<circle cx="293.1" cy="316.7" r="1.9" fill="url(#gb)"/>
<circle cx="298.6" cy="321.1" r="1.9" fill="url(#gb)"/>
<circle cx="268.9" cy="319.8" r="1.9" fill="url(#gb)"/>
<circle cx="306.4" cy="327.4" r="1.9" fill="url(#gb)"/>
<circle cx="312.6" cy="326.2" r="1.9" fill="url(#gb)"/>
<circle cx="283.4" cy="341.3" r="1.9" fill="url(#gb)"/>
<text font-size="5.4" font-style="italic" fill="#555" stroke="#555" stroke-width="0.05" text-anchor="middle" dominant-baseline="central" transform="matrix(0.773 -0.204 0.000 1.000 179.3 248.8)">0.12</text>
<text font-size="5.4" font-style="italic" fill="#555" stroke="#555" stroke-width="0.05" text-anchor="middle" dominant-baseline="central" transform="matrix(0.762 -0.243 0.000 1.000 179.6 272.2)">0.10</text>
<text font-size="5.4" font-style="italic" fill="#555" stroke="#555" stroke-width="0.05" text-anchor="middle" dominant-baseline="central" transform="matrix(0.750 -0.279 0.000 1.000 181.1 295)">0.08</text>
<text font-size="5.4" font-style="italic" fill="#555" stroke="#555" stroke-width="0.05" text-anchor="middle" dominant-baseline="central" transform="matrix(0.736 -0.313 0.000 1.000 181.4 316.6)">0.06</text>
<text font-size="5.4" font-style="italic" fill="#555" stroke="#555" stroke-width="0.05" text-anchor="middle" dominant-baseline="central" transform="matrix(0.722 -0.344 0.000 1.000 183 338.3)">0.04</text>
<text font-size="5.4" font-style="italic" fill="#555" stroke="#555" stroke-width="0.05" text-anchor="middle" dominant-baseline="central" transform="matrix(0.708 -0.372 0.000 1.000 184.7 359.7)">0.02</text>
<text x="214" y="364" font-size="4.6" fill="#444" text-anchor="middle" dominant-baseline="central" transform="rotate(-70 214 364)">10</text>
<text x="241" y="370.5" font-size="4.6" fill="#444" text-anchor="middle" dominant-baseline="central" transform="rotate(-70 241 370.5)">20</text>
<text x="267" y="379" font-size="4.6" fill="#444" text-anchor="middle" dominant-baseline="central" transform="rotate(-70 267 379)">30</text>
<text x="297" y="386.5" font-size="4.6" fill="#444" text-anchor="middle" dominant-baseline="central" transform="rotate(-70 297 386.5)">40</text>
<text x="312.8" y="377.6" font-size="4.6" fill="#444" text-anchor="middle" dominant-baseline="central" transform="rotate(15 312.8 377.6)">0</text>
<text x="330.7" y="363.9" font-size="4.6" fill="#444" text-anchor="middle" dominant-baseline="central" transform="rotate(15 330.7 363.9)">50</text>
<text x="346.6" y="352.4" font-size="4.6" fill="#444" text-anchor="middle" dominant-baseline="central" transform="rotate(15 346.6 352.4)">100</text>
<text x="359.4" y="342" font-size="4.6" fill="#444" text-anchor="middle" dominant-baseline="central" transform="rotate(15 359.4 342)">150</text>
<text font-size="8.8" fill="#222" stroke="#222" stroke-width="0.25" transform="matrix(0.031 1 -0.59 0.018 168.6 259.9)">Overpressure/MPa</text>
<text font-size="9.7" fill="#222" stroke="#222" stroke-width="0.25" transform="matrix(0.971 0.240 -0.394 0.558 210 371.6)">Distance/m</text>
<text font-size="6.9" fill="#222" stroke="#222" stroke-width="0.32" transform="matrix(0.788 -0.616 0.8 0.36 336.8 375.2)">Direction/°</text>
<rect x="338.3" y="220" width="56.7" height="10.5" fill="#fff" stroke="#e6e6e6" stroke-width="0.5"/>
<line x1="338.3" y1="220" x2="338.3" y2="230.5" stroke="#666" stroke-width="0.8"/>
<circle cx="347.8" cy="226.1" r="1.9" fill="url(#gb)"/>
<text x="358.4" y="228.4" font-size="7.4" fill="#111" stroke="#111" stroke-width="0.15"><tspan font-style="italic">V</tspan> = 717 m/s</text>
<text x="273" y="405.2" font-size="11.8" fill="#111" text-anchor="middle">(<tspan font-weight="bold">c</tspan>)</text>
</svg>
</body></html>
